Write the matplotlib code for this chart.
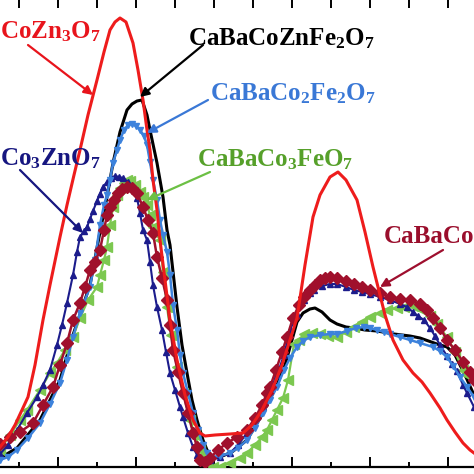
import matplotlib
matplotlib.use("Agg")
import matplotlib.pyplot as plt
from matplotlib.ticker import MultipleLocator

plt.rcParams.update({
    "mathtext.fontset": "custom",
    "mathtext.rm": "Liberation Serif:bold",
    "mathtext.it": "Liberation Serif:italic:bold",
    "mathtext.bf": "Liberation Serif:bold",
})

# ---- data (x in channel units, y intensity a.u.) ----
red_x = [0, 8, 15, 22, 28, 35, 43, 50, 60, 67, 74, 80, 88, 97, 104, 110, 115, 120, 126, 133, 138, 143, 147, 150,
         153, 157, 160, 165, 170, 177, 185, 193, 200, 205, 215, 230, 243, 252, 262, 272, 282, 290, 297, 305, 313,
         320, 330, 338, 346, 357, 365, 373, 380, 385, 393, 403, 413, 422, 430, 440, 447, 455, 463, 470, 474]
red_y = [20, 30, 42, 57, 70, 102, 147, 182, 230, 262, 292, 317, 352, 387, 415, 437, 445, 449, 445, 424, 397, 367,
         337, 317, 287, 257, 227, 187, 147, 107, 72, 47, 34, 31, 32, 33, 34, 42, 57, 77, 102, 127, 149, 202, 250,
         272, 290, 295, 287, 267, 235, 200, 172, 152, 127, 107, 94, 85, 74, 59, 47, 35, 24, 17, 14]

black_x = [0, 17, 40, 60, 73, 90, 100, 107, 113, 120, 127, 132, 137, 142, 147, 150, 157, 163, 167, 170, 177, 182,
           187, 192, 197, 203, 207, 213, 220, 232, 247, 263, 277, 285, 292, 297, 303, 310, 315, 322, 330, 337, 346,
           354, 365, 377, 394, 410, 420, 437, 447, 455, 465, 474]
black_y = [9, 19, 47, 87, 132, 182, 235, 270, 304, 335, 357, 363, 366, 367, 352, 337, 304, 270, 237, 222, 160, 122,
           94, 67, 47, 27, 17, 9, 10, 15, 27, 54, 82, 102, 127, 145, 154, 158, 159, 155, 147, 143, 140, 139, 137,
           136, 133, 131, 129, 123, 120, 112, 92, 72]

blue_x = [0, 8, 17, 28, 40, 50, 60, 67, 73, 80, 90, 95, 100, 104, 107, 110, 113, 117, 120, 124, 128, 132, 136, 140,
          144, 147, 150, 153, 157, 160, 163, 167, 170, 173, 177, 180, 183, 188, 193, 198, 203, 207, 210, 220, 230,
          238, 247, 255, 263, 270, 277, 284, 290, 297, 303, 310, 320, 330, 337, 347, 356, 364, 370, 377, 384, 390,
          400, 410, 420, 433, 440, 447, 453, 460, 467, 474]
blue_y = [7, 10, 17, 29, 44, 63, 84, 107, 130, 154, 180, 207, 242, 262, 272, 287, 304, 317, 327, 337, 342, 343, 341,
          337, 331, 322, 305, 287, 267, 247, 232, 215, 192, 162, 137, 112, 94, 74, 54, 37, 22, 14, 10, 11, 14, 19,
          27, 39, 54, 67, 80, 97, 109, 120, 126, 130, 132, 133, 133, 136, 139, 140, 139, 137, 135, 133, 130, 127,
          124, 120, 116, 110, 101, 90, 80, 70]

navy_x = [0, 8, 17, 27, 37, 43, 50, 57, 62, 67, 73, 77, 80, 84, 87, 90, 93, 97, 100, 103, 107, 111, 115, 119, 123,
          128, 133, 137, 140, 143, 147, 150, 153, 157, 162, 166, 170, 175, 180, 183, 188, 193, 197, 200, 205, 210,
          220, 230, 238, 247, 255, 263, 270, 277, 284, 290, 297, 304, 310, 314, 322, 330, 337, 346, 354, 362, 370,
          380, 390, 400, 407, 413, 418, 424, 430, 435, 440, 447, 452, 457, 463, 467, 474]
navy_y = [13, 22, 37, 54, 70, 82, 97, 122, 142, 164, 192, 215, 230, 236, 240, 248, 256, 266, 273, 280, 285, 289,
          291, 290, 289, 285, 280, 269, 254, 237, 227, 205, 182, 160, 137, 115, 94, 77, 60, 50, 34, 20, 12, 7, 6, 7,
          10, 14, 22, 34, 47, 60, 77, 92, 112, 137, 153, 167, 174, 177, 181, 183, 183, 180, 177, 175, 173, 170, 167,
          163, 160, 155, 151, 147, 139, 131, 122, 111, 103, 96, 82, 74, 60]

green_x = [0, 10, 20, 27, 40, 50, 57, 65, 73, 80, 88, 97, 100, 104, 107, 110, 113, 117, 120, 124, 127, 130, 135,
           140, 143, 147, 150, 153, 157, 160, 163, 167, 171, 177, 183, 190, 195, 200, 204, 207, 213, 220, 230, 240,
           247, 255, 262, 267, 272, 277, 283, 288, 294, 299, 304, 312, 320, 328, 337, 346, 354, 362, 370, 380, 387,
           397, 404, 413, 420, 430, 437, 447, 455, 463, 467, 474]
green_y = [17, 32, 47, 57, 77, 94, 104, 117, 130, 149, 167, 180, 192, 207, 220, 242, 260, 272, 279, 284, 287, 286,
           282, 275, 270, 262, 252, 240, 233, 227, 195, 160, 132, 100, 74, 47, 32, 17, 9, 4, 0, 0, 4, 9, 14, 22, 30,
           37, 47, 57, 69, 87, 123, 127, 133, 134, 133, 131, 130, 135, 140, 145, 150, 154, 157, 159, 160, 161, 158,
           151, 143, 130, 115, 97, 92, 87]

dred_x = [0, 10, 20, 33, 43, 53, 60, 67, 73, 80, 85, 90, 95, 100, 104, 107, 110, 114, 118, 122, 127, 132, 137, 143,
          148, 153, 157, 162, 167, 170, 173, 178, 183, 188, 193, 197, 200, 205, 210, 218, 227, 237, 247, 255, 262,
          267, 270, 276, 282, 287, 293, 299, 304, 310, 315, 320, 325, 330, 337, 346, 354, 362, 370, 380, 390, 400,
          410, 420, 427, 433, 440, 447, 455, 463, 470, 474]
dred_y = [23, 30, 35, 44, 62, 80, 102, 124, 147, 164, 180, 197, 205, 217, 237, 252, 260, 267, 274, 278, 280, 279,
          274, 260, 247, 234, 210, 189, 167, 142, 117, 95, 74, 54, 34, 20, 7, 5, 9, 17, 24, 30, 37, 49, 62, 74, 80,
          97, 115, 130, 149, 162, 170, 177, 182, 187, 189, 190, 189, 186, 183, 180, 177, 174, 170, 168, 167, 163,
          157, 149, 139, 127, 117, 105, 95, 87]

# labels: (text, colour, anchor x, baseline y, arrow tail x, tail y, head x, head y)
labels = [
    ("CoZn$_3$O$_7$", "#e8141c", 0, 429, 28, 422, 93, 372),
    ("CaBaCoZnFe$_2$O$_7$", "#000000", 188, 422, 203, 422, 140, 370),
    ("CaBaCo$_2$Fe$_2$O$_7$", "#3a78d6", 210, 367, 208, 367, 147, 334),
    ("CaBaCo$_3$FeO$_7$", "#56a02a", 197, 301, 210, 295, 147, 267),
    ("Co$_3$ZnO$_7$", "#161680", 0, 302, 20, 297, 83, 234),
    ("CaBaCo", "#9a0e2c", 384, 224, 443, 217, 380, 180),
]
arrow_colors = ["#e8141c", "#000000", "#3a78d6", "#6cc044", "#161680", "#9e0f2e"]

fig = plt.figure(figsize=(4.74, 4.74), dpi=100)
ax = fig.add_axes([0.0, 7 / 474, 1.0, 467 / 474])
ax.set_xlim(0, 474)
ax.set_ylim(0, 467)

ax.plot(black_x, black_y, color="black", lw=2.2, zorder=2)
ax.plot(green_x, green_y, color="#7cc850", lw=1.6, marker="<", ms=6.5, mec="#7cc850", zorder=3)
ax.plot(navy_x, navy_y, color="#1c1c8c", lw=1.5, marker="^", ms=5, mec="#1c1c8c", zorder=4)
ax.plot(blue_x, blue_y, color="#3c82dc", lw=1.8, marker="v", ms=4.5, mec="#3c82dc", zorder=5)
ax.plot(dred_x, dred_y, color="#a0102c", lw=1.8, marker="D", ms=6, mec="#a0102c", zorder=6)
ax.plot(red_x, red_y, color="#ee1c1c", lw=2.2, zorder=7)

for (txt, col, tx, ty, ax0, ay0, ax1, ay1), acol in zip(labels, arrow_colors):
    ax.text(tx, ty, txt, color=col, fontsize=18, fontweight="bold", family="Liberation Serif",
            ha="left", va="baseline", zorder=10)
    ax.annotate("", xy=(ax1, ay1), xytext=(ax0, ay0),
                arrowprops=dict(arrowstyle="-|>", color=acol, lw=1.6, mutation_scale=13,
                                shrinkA=0, shrinkB=0), zorder=9)

for s in ["left", "right", "top"]:
    ax.spines[s].set_visible(False)
ax.spines["bottom"].set_linewidth(1.6)
ax.xaxis.set_major_locator(MultipleLocator(78, offset=58))
ax.xaxis.set_minor_locator(MultipleLocator(78, offset=19))
ax.tick_params(axis="x", which="major", direction="in", length=7, width=1.4, labelbottom=False)
ax.tick_params(axis="x", which="minor", direction="in", length=3.5, width=1.4)
ax.set_yticks([])

sec = ax.secondary_xaxis("top")
sec.xaxis.set_major_locator(MultipleLocator(39, offset=19))
sec.tick_params(axis="x", which="major", direction="in", length=6, width=1.4, labeltop=False)
sec.spines["top"].set_visible(False)

fig.savefig("out.png", dpi=100)
